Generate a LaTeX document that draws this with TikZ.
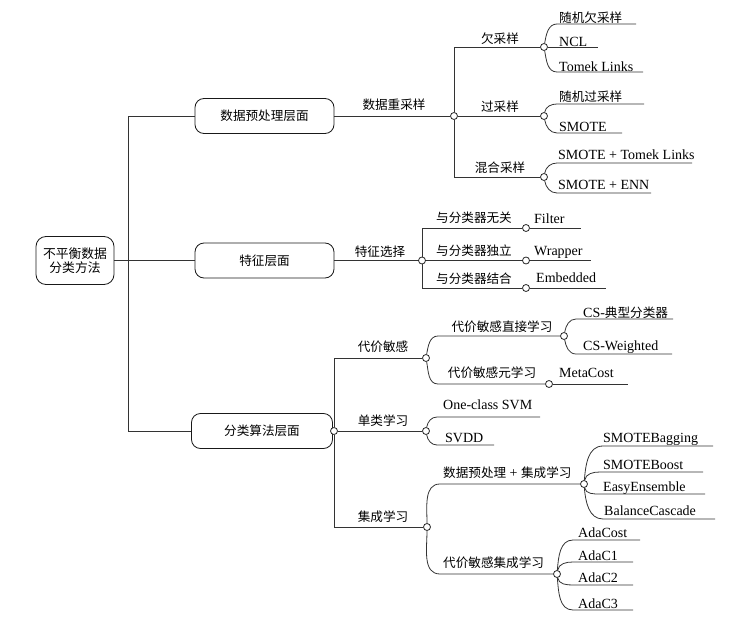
\documentclass[tikz,border=0pt]{standalone}
\usepackage{fontspec}
\setmainfont{Liberation Serif}
\newfontfamily\cjk{Noto Sans CJK SC}
\begin{document}
\begin{tikzpicture}[x=1pt,y=-1pt,
  ln/.style={draw=black!80, line width=0.8pt},
  box/.style={draw=black!90, line width=0.8pt, rounded corners=9pt, minimum width=139pt, minimum height=35pt, inner sep=0pt, font=\cjk\fontsize{12.6}{14}\selectfont},
  dot/.style={circle, draw=black!85, fill=white, inner sep=0pt, minimum size=7pt, line width=0.8pt},
  zh/.style={font=\cjk\fontsize{12.6}{14}\selectfont, inner sep=0pt},
  en/.style={font=\fontsize{14}{16}\selectfont, inner sep=0pt, anchor=base west},
]
\useasboundingbox (0,0) rectangle (748,629);
% level 1
\node[box, minimum width=78pt, minimum height=48pt, rounded corners=10pt, align=center, font=\cjk\fontsize{12.8}{13.5}\selectfont] (root) at (75,260.5) {不平衡数据\\分类方法};
\node[box] (b1) at (264.5,116) {数据预处理层面};
\node[box] (b2) at (264.5,260.5) {特征层面};
\node[box, minimum width=141pt] (b3) at (262,431) {分类算法层面};
\coordinate (t3) at (128,431);
\draw[ln] (b1.west) -| (t3) -- (b3.west);
\draw[ln] (root.east) -- (b2.west);

% ---- data level
\node[dot] (c1) at (454,116) {};
\coordinate (v1t) at (454,47); \coordinate (v1b) at (454,177);
\node[dot] (c11) at (544,47) {};
\node[dot] (c12) at (544,116) {};
\node[dot] (c13) at (544,177) {};
\draw[ln] (b1.east) -- (c1);
\draw[ln] (c1) -- (v1t) -- (c11);
\draw[ln] (c1) -- (c12);
\draw[ln] (c1) -- (v1b) -- (c13);
\node[zh] (l1) at (394,105) {数据重采样};
\node[zh] (l11) at (500,39) {欠采样};
\node[zh] (l12) at (500,107) {过采样};
\node[zh] (l13) at (500,168) {混合采样};

\coordinate (a1s) at (557,24); \coordinate (a1e) at (636,24);
\coordinate (a2e) at (598,47);
\coordinate (a3s) at (557,72); \coordinate (a3e) at (643,72);
\coordinate (a4s) at (557,104); \coordinate (a4e) at (644,104);
\coordinate (a5s) at (557,133); \coordinate (a5e) at (622,133);
\coordinate (a6s) at (557,163); \coordinate (a6e) at (692,163);
\coordinate (a7s) at (557,193); \coordinate (a7e) at (651,193);
\draw[ln] (c11) to[out=80,in=180] (a1s) -- (a1e);
\draw[ln] (c11) -- (a2e);
\draw[ln] (c11) to[out=-80,in=180] (a3s) -- (a3e);
\draw[ln] (c12) to[out=80,in=180] (a4s) -- (a4e);
\draw[ln] (c12) to[out=-80,in=180] (a5s) -- (a5e);
\draw[ln] (c13) to[out=80,in=180] (a6s) -- (a6e);
\draw[ln] (c13) to[out=-80,in=180] (a7s) -- (a7e);
\node[zh, anchor=west] (x1) at (559,18) {随机欠采样};
\node[en] (x2) at (559,46) {NCL};
\node[en] (x3) at (559,71.5) {Tomek Links};
\node[zh, anchor=west] (x4) at (559,97) {随机过采样};
\node[en] (x5) at (559,131) {SMOTE};
\node[en] (x6) at (558,159.5) {SMOTE + Tomek Links};
\node[en] (x7) at (558,189.5) {SMOTE + ENN};

% ---- feature level
\node[dot] (c2) at (422,260.5) {};
\coordinate (v2t) at (422,228); \coordinate (v2b) at (422,288);
\node[dot] (f1) at (526,228) {};
\node[dot] (f2) at (526,260.5) {};
\node[dot] (f3) at (526,288) {};
\coordinate (f1e) at (581,228);
\coordinate (f2e) at (591,260.5);
\coordinate (f3e) at (606,288);
\draw[ln] (b2.east) -- (c2);
\draw[ln] (c2) -- (v2t) -- (f1);
\draw[ln] (f1) -- (f1e);
\draw[ln] (c2) -- (f2);
\draw[ln] (f2) -- (f2e);
\draw[ln] (c2) -- (v2b) -- (f3);
\draw[ln] (f3) -- (f3e);
\node[zh] (l2) at (380,252) {特征选择};
\node[zh] (l21) at (474,218) {与分类器无关};
\node[zh] (l22) at (474,251) {与分类器独立};
\node[zh] (l23) at (474,279) {与分类器结合};
\node[en] (y1) at (534,223) {Filter};
\node[en] (y2) at (534,255.5) {Wrapper};
\node[en] (y3) at (536,282) {Embedded};

% ---- classification level
\node[dot] (c3) at (334,431) {};
\coordinate (v3t) at (334,358); \coordinate (v3b) at (334,527);
\node[dot] (cs1) at (426,358) {};
\node[dot] (cs2) at (426,431) {};
\node[dot] (cs3) at (427,527) {};
\draw[ln] (c3) -- (v3t) -- (cs1);
\draw[ln] (c3) -- (cs2);
\draw[ln] (c3) -- (v3b) -- (cs3);
\node[zh] (l31) at (383,347) {代价敏感};
\node[zh] (l32) at (383,421) {单类学习};
\node[zh] (l33) at (383,517) {集成学习};

% cost sensitive
\coordinate (g1s) at (438,336);
\node[dot] (d1) at (564,336) {};
\coordinate (g2s) at (438,384);
\node[dot] (d2) at (549,384) {};
\coordinate (g2e) at (628,384);
\draw[ln] (cs1) to[out=80,in=180] (g1s) -- (d1);
\draw[ln] (cs1) to[out=-80,in=180] (g2s) -- (d2);
\draw[ln] (d2) -- (g2e);
\node[zh] (p1) at (502,327) {代价敏感直接学习};
\node[zh] (p2) at (492,373) {代价敏感元学习};
\node[en] (p3) at (559,377) {MetaCost};
\coordinate (h1s) at (576,319); \coordinate (h1e) at (673,319);
\coordinate (h2s) at (576,354); \coordinate (h2e) at (672,354);
\draw[ln] (d1) to[out=80,in=180] (h1s) -- (h1e);
\draw[ln] (d1) to[out=-80,in=180] (h2s) -- (h2e);
\node[en] (q1) at (583,317) {CS-{\cjk\fontsize{12.6}{14}\selectfont 典型分类器}};
\node[en] (q2) at (583,350) {CS-Weighted};

% one-class
\coordinate (s1s) at (437,417); \coordinate (s1e) at (540,417);
\coordinate (s2s) at (437,445); \coordinate (s2e) at (494,445);
\draw[ln] (cs2) to[out=80,in=180] (s1s) -- (s1e);
\draw[ln] (cs2) to[out=-80,in=180] (s2s) -- (s2e);
\node[en] (r1) at (443,409) {One-class SVM};
\node[en] (r2) at (445,442) {SVDD};

% ensemble
\coordinate (e1s) at (440,484);
\node[dot] (e1) at (584,484) {};
\coordinate (e2s) at (440,574);
\node[dot] (e2) at (557,574) {};
\draw[ln] (cs3) to[out=90,in=180] (e1s) -- (e1);
\draw[ln] (cs3) to[out=-90,in=180] (e2s) -- (e2);
\node[zh, anchor=west] (u1) at (443,473) {数据预处理{\rmfamily\fontsize{14}{16}\selectfont\ +\ }集成学习};
\node[zh, anchor=west] (u2) at (443,563) {代价敏感集成学习};

\coordinate (m1s) at (603,446); \coordinate (m1e) at (713,446);
\coordinate (m2s) at (600,472); \coordinate (m2e) at (703,472);
\coordinate (m3s) at (600,494); \coordinate (m3e) at (705,494);
\coordinate (m4s) at (603,519); \coordinate (m4e) at (715,519);
\draw[ln] (e1) to[out=85,in=180] (m1s) -- (m1e);
\draw[ln] (e1) to[out=80,in=180] (m2s) -- (m2e);
\draw[ln] (e1) to[out=-80,in=180] (m3s) -- (m3e);
\draw[ln] (e1) to[out=-85,in=180] (m4s) -- (m4e);
\node[en] (w1) at (603,442) {SMOTEBagging};
\node[en] (w2) at (603,469) {SMOTEBoost};
\node[en] (w3) at (603,491.5) {EasyEnsemble};
\node[en] (w4) at (604,515.5) {BalanceCascade};

\coordinate (n1s) at (573,540); \coordinate (n1e) at (640,540);
\coordinate (n2s) at (573,562); \coordinate (n2e) at (633,562);
\coordinate (n3s) at (573,585); \coordinate (n3e) at (633,585);
\coordinate (n4s) at (573,610); \coordinate (n4e) at (633,610);
\draw[ln] (e2) to[out=85,in=180] (n1s) -- (n1e);
\draw[ln] (e2) to[out=80,in=180] (n2s) -- (n2e);
\draw[ln] (e2) to[out=-80,in=180] (n3s) -- (n3e);
\draw[ln] (e2) to[out=-85,in=180] (n4s) -- (n4e);
\node[en] (z1) at (578,537) {AdaCost};
\node[en] (z2) at (578,560) {AdaC1};
\node[en] (z3) at (578,582.5) {AdaC2};
\node[en] (z4) at (578,608.5) {AdaC3};
\end{tikzpicture}
\end{document}
